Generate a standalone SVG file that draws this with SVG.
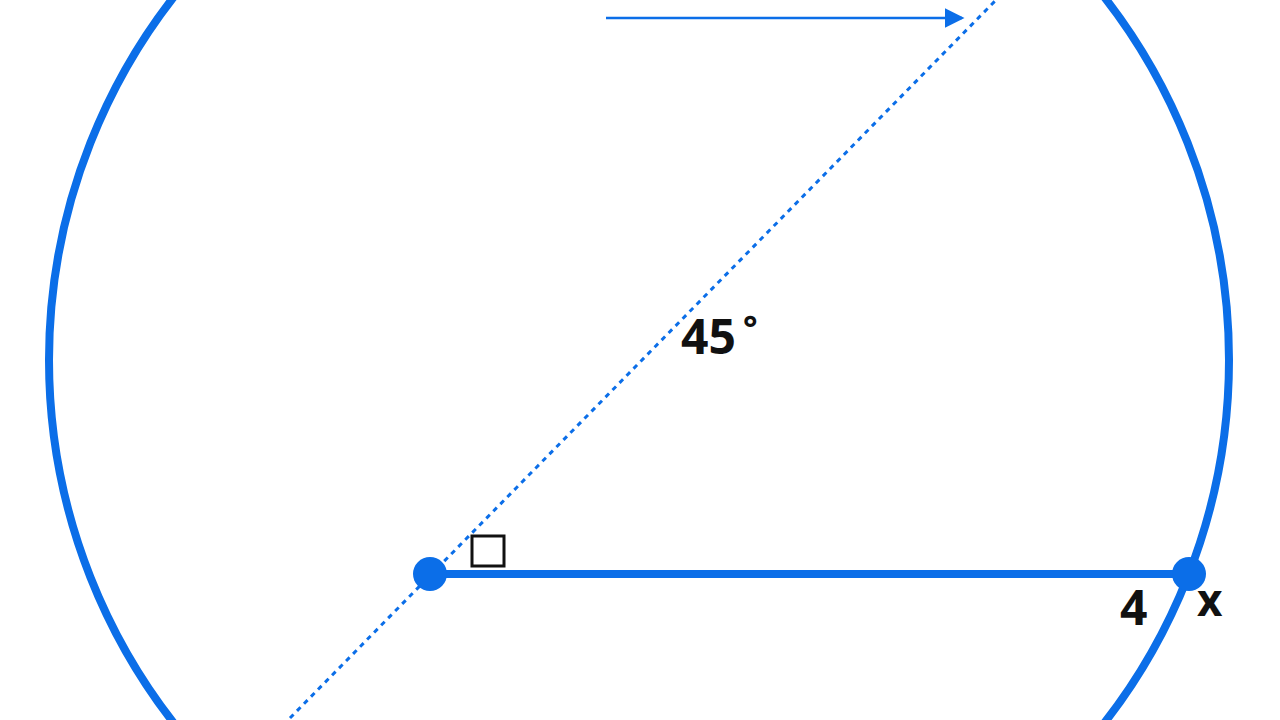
<svg xmlns="http://www.w3.org/2000/svg" width="1280" height="720" viewBox="0 0 1280 720">
<defs>
<style>
.blue{stroke:#0b6ee8;fill:none}
.lbl{font-family:"Open Sans","Liberation Sans",sans-serif;font-weight:700;fill:#111}
</style>
<marker id="ah" markerWidth="8" markerHeight="8" refX="7" refY="4" orient="auto" markerUnits="strokeWidth">
<path d="M0,0 L8,4 L0,8 Z" fill="#0b6ee8"/>
</marker>
</defs>
<rect width="1280" height="720" fill="#ffffff"/>
<g id="circle"><circle cx="639" cy="360" r="590" class="blue" stroke-width="8"/></g>
<g id="connectors">
<line x1="290" y1="718" x2="996" y2="0" class="blue" stroke-width="3" stroke-dasharray="5,5"/>
<line x1="606" y1="18" x2="962" y2="18" class="blue" stroke-width="2.5" marker-end="url(#ah)"/>
<line x1="430" y1="574" x2="1188" y2="574" class="blue" stroke-width="8"/>
</g>
<g id="right-angle"><rect x="472" y="536" width="32" height="30" fill="none" stroke="#111" stroke-width="3"/></g>
<g id="pointA"><circle cx="430" cy="574" r="17" fill="#0b6ee8"/></g>
<g id="pointB"><circle cx="1189" cy="574" r="17" fill="#0b6ee8"/></g>
<g id="labels">
<text x="681" y="354" class="lbl" font-size="48">45</text>
<text x="743" y="340" class="lbl" font-size="34" font-weight="400">°</text>
<text x="1120" y="625" class="lbl" font-size="48">4</text>
<text x="1197" y="616" class="lbl" font-size="44">x</text>
</g>
</svg>
